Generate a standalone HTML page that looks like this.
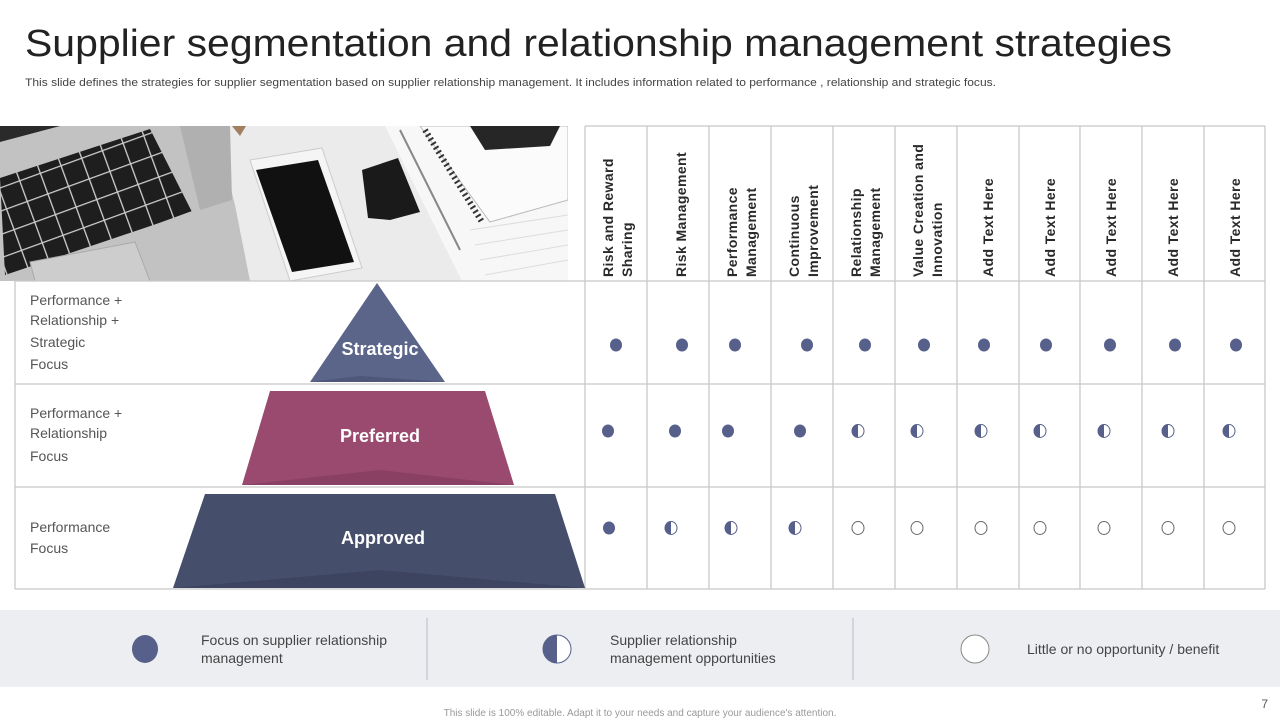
<!DOCTYPE html>
<html><head><meta charset="utf-8"><style>
html,body{margin:0;padding:0;background:#fff;}
svg{display:block;}
text{font-family:"Liberation Sans",sans-serif;}
</style></head><body>
<svg width="1280" height="720" viewBox="0 0 1280 720" xmlns="http://www.w3.org/2000/svg">
<defs>
<pattern id="keys" width="22" height="22" patternUnits="userSpaceOnUse" patternTransform="rotate(-20)">
<rect width="22" height="22" fill="#1e1e1e"/>
<path d="M0,0.5 H22 M0.5,0 V22" stroke="#cfcfcf" stroke-width="1.6"/>
</pattern>
<g id="f"><ellipse cx="0" cy="0" rx="6" ry="6.5" fill="#56608a"/></g>
<g id="h"><ellipse cx="0" cy="0" rx="6" ry="6.5" fill="#fff" stroke="#56608a" stroke-width="1"/><path d="M0,-6.5 A6,6.5 0 0 0 0,6.5 Z" fill="#56608a"/></g>
<g id="e"><ellipse cx="0" cy="0" rx="6" ry="6.5" fill="#fff" stroke="#666" stroke-width="1"/></g>
</defs>
<rect width="1280" height="720" fill="#fff"/>
<text x="25" y="56" font-size="38" fill="#222" textLength="1147" lengthAdjust="spacingAndGlyphs">Supplier segmentation and relationship management strategies</text>
<text x="25" y="86" font-size="11" fill="#444" textLength="971" lengthAdjust="spacingAndGlyphs">This slide defines the strategies for supplier segmentation based on supplier relationship management. It includes information related to performance , relationship and strategic focus.</text>

<!-- photo -->
<clipPath id="pc"><rect x="0" y="126" width="568" height="155"/></clipPath>
<g clip-path="url(#pc)">
<rect x="0" y="126" width="568" height="155" fill="#ebebeb"/>
<polygon points="0,126 215,126 235,205 250,281 0,281" fill="#c2c2c2"/>
<polygon points="0,126 60,126 0,142" fill="#2a2a2a"/>
<polygon points="0,178 150,129 192,212 5,275" fill="url(#keys)"/>
<polygon points="30,262 135,242 150,281 35,281" fill="#cdcdcd" stroke="#aaa"/>
<polygon points="180,126 230,126 232,200 200,210" fill="#b0b0b0"/>
<polygon points="250,160 322,148 362,268 290,281" fill="#f5f5f5" stroke="#ccc"/>
<polygon points="256,170 318,160 354,262 292,272" fill="#111"/>
<polygon points="232,126 246,126 240,136" fill="#a08060"/>
<polygon points="385,126 568,126 568,281 462,281" fill="#f7f7f7"/>
<g stroke="#ddd" stroke-width="1">
<line x1="470" y1="230" x2="568" y2="215"/><line x1="475" y1="245" x2="568" y2="230"/><line x1="480" y1="260" x2="568" y2="245"/><line x1="485" y1="275" x2="568" y2="260"/>
</g>
<polygon points="362,170 398,158 420,212 390,220 368,218" fill="#1a1a1a"/>
<polygon points="420,126 568,126 568,200 490,222" fill="#fbfbfb" stroke="#bbb"/>
<polygon points="470,126 560,126 550,146 485,150" fill="#262626"/>
<line x1="425" y1="130" x2="482" y2="222" stroke="#333" stroke-width="6" stroke-dasharray="2 3"/>
<line x1="400" y1="130" x2="460" y2="250" stroke="#888" stroke-width="2"/>
</g>

<!-- grid -->
<g stroke="#c8c8c8" stroke-width="1.3" fill="none">
<line x1="585" y1="126" x2="1265" y2="126"/>
<line x1="15" y1="281" x2="1265" y2="281"/>
<line x1="15" y1="384" x2="1265" y2="384"/>
<line x1="15" y1="487" x2="1265" y2="487"/>
<line x1="15" y1="589" x2="1265" y2="589"/>
<line x1="15" y1="281" x2="15" y2="589"/>
<line x1="585" y1="126" x2="585" y2="589"/>
<line x1="647" y1="126" x2="647" y2="589"/>
<line x1="709" y1="126" x2="709" y2="589"/>
<line x1="771" y1="126" x2="771" y2="589"/>
<line x1="833" y1="126" x2="833" y2="589"/>
<line x1="895" y1="126" x2="895" y2="589"/>
<line x1="957" y1="126" x2="957" y2="589"/>
<line x1="1019" y1="126" x2="1019" y2="589"/>
<line x1="1080" y1="126" x2="1080" y2="589"/>
<line x1="1142" y1="126" x2="1142" y2="589"/>
<line x1="1204" y1="126" x2="1204" y2="589"/>
<line x1="1265" y1="126" x2="1265" y2="589"/>
</g>

<!-- headers -->
<g font-size="14" font-weight="bold" fill="#2a2a2a" letter-spacing="0.4">
<text transform="translate(613,277) rotate(-90)">Risk and Reward</text>
<text transform="translate(632,277) rotate(-90)">Sharing</text>
<text transform="translate(686,277) rotate(-90)">Risk Management</text>
<text transform="translate(737,277) rotate(-90)">Performance</text>
<text transform="translate(756,277) rotate(-90)">Management</text>
<text transform="translate(799,277) rotate(-90)">Continuous</text>
<text transform="translate(818,277) rotate(-90)">Improvement</text>
<text transform="translate(861,277) rotate(-90)">Relationship</text>
<text transform="translate(880,277) rotate(-90)">Management</text>
<text transform="translate(923,277) rotate(-90)">Value Creation and</text>
<text transform="translate(942,277) rotate(-90)">Innovation</text>
<text transform="translate(993,277) rotate(-90)">Add Text Here</text>
<text transform="translate(1055,277) rotate(-90)">Add Text Here</text>
<text transform="translate(1116,277) rotate(-90)">Add Text Here</text>
<text transform="translate(1178,277) rotate(-90)">Add Text Here</text>
<text transform="translate(1240,277) rotate(-90)">Add Text Here</text>
</g>

<!-- row labels -->
<g font-size="14" fill="#555">
<text x="30" y="305">Performance +</text>
<text x="30" y="325">Relationship +</text>
<text x="30" y="347">Strategic</text>
<text x="30" y="369">Focus</text>
<text x="30" y="418">Performance +</text>
<text x="30" y="438">Relationship</text>
<text x="30" y="461">Focus</text>
<text x="30" y="532">Performance</text>
<text x="30" y="553">Focus</text>
</g>

<!-- pyramid -->
<polygon points="377,283 445,382 310,382" fill="#5b6489"/>
<polygon points="310,382 360,376 445,382" fill="#4e5779"/>
<polygon points="270,391 485,391 514,485 242,485" fill="#9a4a6e"/>
<polygon points="242,485 380,470 514,485" fill="#8a4062"/>
<polygon points="205,494 555,494 585,588 173,588" fill="#454e6b"/>
<polygon points="173,588 380,570 585,588" fill="#3c4460"/>
<g font-size="18" font-weight="bold" fill="#fff" text-anchor="middle">
<text x="380" y="355">Strategic</text>
<text x="380" y="442">Preferred</text>
<text x="383" y="544">Approved</text>
</g>

<!-- dots -->
<use href="#f" x="616" y="345"/><use href="#f" x="682" y="345"/><use href="#f" x="735" y="345"/><use href="#f" x="807" y="345"/><use href="#f" x="865" y="345"/><use href="#f" x="924" y="345"/><use href="#f" x="984" y="345"/><use href="#f" x="1046" y="345"/><use href="#f" x="1110" y="345"/><use href="#f" x="1175" y="345"/><use href="#f" x="1236" y="345"/>
<use href="#f" x="608" y="431"/><use href="#f" x="675" y="431"/><use href="#f" x="728" y="431"/><use href="#f" x="800" y="431"/><use href="#h" x="858" y="431"/><use href="#h" x="917" y="431"/><use href="#h" x="981" y="431"/><use href="#h" x="1040" y="431"/><use href="#h" x="1104" y="431"/><use href="#h" x="1168" y="431"/><use href="#h" x="1229" y="431"/>
<use href="#f" x="609" y="528"/><use href="#h" x="671" y="528"/><use href="#h" x="731" y="528"/><use href="#h" x="795" y="528"/><use href="#e" x="858" y="528"/><use href="#e" x="917" y="528"/><use href="#e" x="981" y="528"/><use href="#e" x="1040" y="528"/><use href="#e" x="1104" y="528"/><use href="#e" x="1168" y="528"/><use href="#e" x="1229" y="528"/>

<!-- legend -->
<rect x="0" y="610" width="1280" height="77" fill="#eceef2"/>
<line x1="427" y1="618" x2="427" y2="680" stroke="#b8bccb"/>
<line x1="853" y1="618" x2="853" y2="680" stroke="#b8bccb"/>
<ellipse cx="145" cy="649" rx="13" ry="14" fill="#56608a"/>
<ellipse cx="557" cy="649" rx="14" ry="14" fill="#fff" stroke="#56608a"/>
<path d="M557,635 A14,14 0 0 0 557,663 Z" fill="#56608a"/>
<ellipse cx="975" cy="649" rx="14" ry="14" fill="#fff" stroke="#888"/>
<g font-size="14" fill="#444">
<text x="201" y="645">Focus on supplier relationship</text>
<text x="201" y="663">management</text>
<text x="610" y="645">Supplier relationship</text>
<text x="610" y="663">management opportunities</text>
<text x="1027" y="654">Little or no opportunity / benefit</text>
</g>
<text x="640" y="716" font-size="10" fill="#999" text-anchor="middle">This slide is 100% editable. Adapt it to your needs and capture your audience's attention.</text>
<text x="1268" y="708" font-size="12" fill="#555" text-anchor="end">7</text>
</svg>
</body></html>
